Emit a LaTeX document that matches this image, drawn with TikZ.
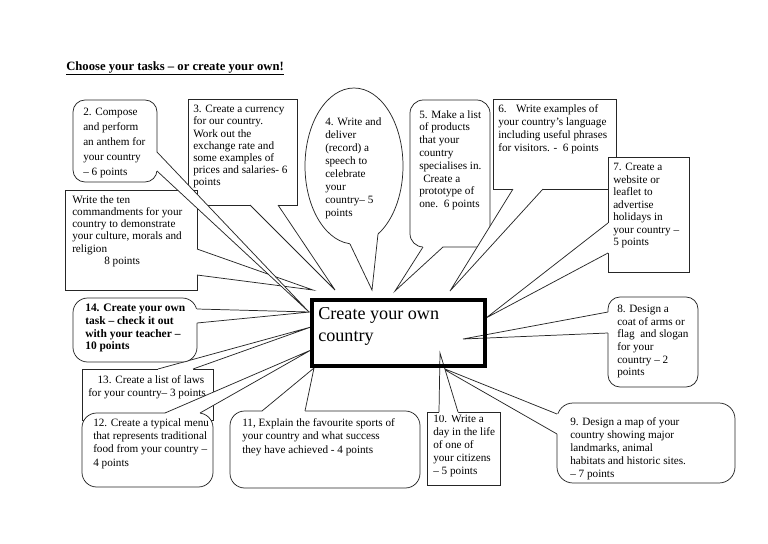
\documentclass[tikz,border=0pt]{standalone}
\usepackage{fontspec}
\setmainfont{Liberation Serif}
\newcommand\wdg[5]{\fill[white] #2 -- #1 -- #3 -- #4 -- #5 -- cycle; \draw[line] #1 -- #3 -- #4;}
\begin{document}
\begin{tikzpicture}[x=0.75pt,y=-0.75pt,
  line/.style={draw=black!85, line width=0.55pt},
  rbox/.style={line, fill=white, rounded corners=9pt},
  sbox/.style={line, fill=white},
  txt/.style={font=\fontsize{8.4pt}{#1}\selectfont, align=left, inner sep=0pt, anchor=north west},
  txt/.default=9.4pt]
\useasboundingbox (0,0) rectangle (768,543);
\fill[white] (0,0) rectangle (768,543);

% tips
\coordinate (p2) at (309,312);
\coordinate (p3) at (335,290);
\coordinate (p4) at (372,290);
\coordinate (p5) at (395,291);
\coordinate (p6) at (450,291);
\coordinate (p7) at (486,318);
\coordinate (p8) at (463,339);
\coordinate (p9) at (440,367);
\coordinate (p10) at (440,353);
\coordinate (p11) at (314,368);
\coordinate (p12) at (311,350);
\coordinate (p13) at (311,327);
\coordinate (p14) at (310,312);
\coordinate (pc) at (313,290);

\node[font=\fontsize{9.5pt}{11pt}\selectfont\bfseries, inner sep=0pt, anchor=north west] (title) at (66,61) {\underline{Choose your tasks – or create your own!}};

% 3 currency
\draw[sbox] (188,99) rectangle (297,205);
\node[txt=9.15pt] (t3) at (193,105) {3. Create a currency\\for our country.\\Work out the\\exchange rate and\\some examples of\\prices and salaries- 6\\points};
\wdg{(250,205)}{(250,202)}{(p3)}{(278,205)}{(278,202)}

% commandments
\draw[sbox] (65,190) rectangle (197,290);
\node[txt=9.2pt] (tc) at (72,195) {Write the ten\\commandments for your\\country to demonstrate\\your culture, morals and\\religion\\\hspace*{24pt}8 points};
\wdg{(197,249)}{(194,249)}{(pc)}{(197,275)}{(194,275)}

% 2 compose
\draw[rbox] (73,100) rectangle (157,182);
\node[txt=11.25pt] (t2) at (83,108) {2. Compose\\and perform\\an anthem for\\your country\\– 6 points};
\wdg{(157,152)}{(154,152)}{(p2)}{(157,171)}{(154,171)}

% 4 ellipse
\draw[sbox] (354,166) ellipse [x radius=36.75pt, y radius=58.5pt];
\node[txt=9.75pt] (t4) at (325,117) {4. Write and\\deliver\\(record) a\\speech to\\celebrate\\your\\country– 5\\points};
\wdg{(350,244)}{(351,238)}{(p4)}{(378,234)}{(376,229)}

% 5
\draw[rbox, rounded corners=10pt] (410,100) rectangle (490,247);
\node[txt=9.6pt] (t5) at (419,110) {5. Make a list\\of products\\that your\\country\\specialises in.\\\hspace*{3pt}Create a\\prototype of\\one.\ \ 6 points};
\wdg{(423,247)}{(423,244)}{(p5)}{(443,247)}{(443,244)}

% 6
\draw[sbox] (493,99) rectangle (616,189);
\node[txt=9.75pt] (t6) at (498,104) {6.\hspace{7pt}Write examples of\\your country's language\\including useful phrases\\for visitors. -\ \ 6 points};
\wdg{(513,189)}{(513,186)}{(p6)}{(543,189)}{(543,186)}

% 7
\draw[sbox] (608,157) rectangle (689,272);
\node[txt=9.4pt] (t7) at (613,163) {7. Create a\\website or\\leaflet to\\advertise\\holidays in\\your country –\\5 points};
\wdg{(608,223)}{(611,223)}{(p7)}{(608,253)}{(611,253)}

% 8
\draw[rbox] (608,297) rectangle (698,387);
\node[txt=9.45pt] (t8) at (617,305) {8. Design a\\coat of arms or\\flag\ \ and slogan\\for your\\country – 2\\points};
\wdg{(608,312)}{(611,312)}{(p8)}{(608,333)}{(611,333)}

% 9
\draw[rbox, rounded corners=12pt] (557,403) rectangle (735,483);
\node[txt=9.9pt] (t9) at (570,417) {9. Design a map of your\\country showing major\\landmarks, animal\\habitats and historic sites.\\– 7 points};
\wdg{(557,414)}{(560,414)}{(p9)}{(557,434)}{(560,434)}

% 10
\draw[sbox] (427,412) rectangle (500,485);
\node[txt=9.75pt] (t10) at (433,415) {10. Write a\\day in the life\\of one of\\your citizens\\– 5 points};
\wdg{(439,412)}{(439,415)}{(p10)}{(458,412)}{(458,415)}

% 11
\draw[rbox, rounded corners=11pt] (230,411) rectangle (420,488);
\node[txt=10.1pt] (t11) at (242,418) {11, Explain the favourite sports of\\your country and what success\\they have achieved - 4 points};
\wdg{(262,411)}{(262,414)}{(p11)}{(305,411)}{(305,414)}

% 13
\draw[sbox] (82,369) rectangle (213,420);
\node[txt=9.75pt] (t13) at (88,375) {\hspace*{7pt}13. Create a list of laws\\for your country– 3 points};
\wdg{(158,369)}{(158,372)}{(p13)}{(193,369)}{(193,372)}

% 12
\draw[rbox, rounded corners=11pt] (82,413) rectangle (213,487);
\node[txt=10pt] (t12) at (93,418) {12. Create a typical menu\\that represents traditional\\food from your country –\\4 points};
\wdg{(165,413)}{(165,416)}{(p12)}{(200,413)}{(200,416)}

% 14
\draw[rbox, rounded corners=11pt] (73,298) rectangle (197,362);
\node[txt=9.5pt, font=\fontsize{8.6pt}{9.5pt}\selectfont\bfseries] (t14) at (85,304) {14. Create your own\\task – check it out\\with your teacher –\\10 points};
\wdg{(197,309)}{(194,309)}{(p14)}{(197,323)}{(194,323)}

% centre
\coordinate (cnw) at (312,300);
\coordinate (cse) at (485,366);
\node[font=\fontsize{13.6pt}{16.5pt}\selectfont, align=left, inner sep=0pt, anchor=north west] (ctr) at (318,307) {Create your own\\country};
\draw[line width=3pt] (cnw) rectangle (cse);
\end{tikzpicture}
\end{document}
